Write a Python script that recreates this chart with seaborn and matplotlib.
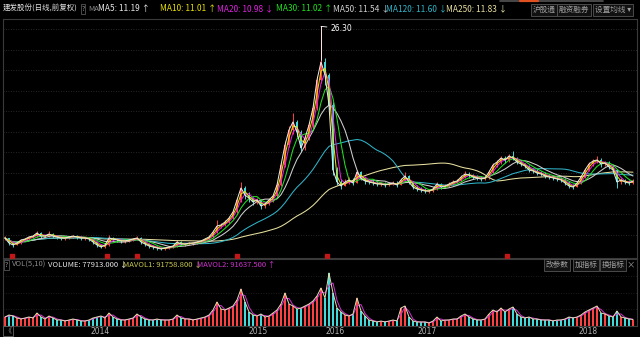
import numpy as np
import pandas as pd
import matplotlib
matplotlib.use("Agg")
import matplotlib.pyplot as plt
import seaborn as sns

# ---------------- data (one value per bar, ~6 trading days per bar) ----------------
close = [5.66, 5.17, 4.98, 5.17, 5.46, 5.56, 5.76, 5.85, 6.15, 5.85,
         5.85, 6.05, 5.85, 5.76, 5.66, 5.66, 5.76, 5.85, 5.76, 5.66,
         5.66, 5.56, 5.27, 4.98, 4.78, 4.98, 5.66, 5.56, 5.46, 5.37,
         5.37, 5.46, 5.56, 5.66, 5.27, 5.07, 4.88, 4.78, 4.68, 4.59,
         4.68, 4.78, 4.88, 5.27, 5.07, 5.07, 5.17, 5.17, 5.27, 5.37,
         5.56, 5.76, 6.24, 6.83, 6.93, 7.22, 7.61, 8.20, 9.37, 10.54,
         9.85, 9.56, 9.17, 9.37, 8.78, 8.98, 9.37, 9.76, 10.83, 12.78,
         14.73, 16.20, 16.98, 16.00, 14.44, 15.41, 16.68, 18.34, 21.07, 22.83,
         21.56, 18.63, 12.29, 11.12, 10.73, 11.12, 11.32, 11.02, 12.10, 11.51,
         11.22, 11.12, 11.02, 10.93, 10.93, 10.83, 10.93, 11.02, 10.83, 11.32,
         11.71, 11.12, 10.63, 10.44, 10.34, 10.24, 10.24, 10.44, 10.93, 10.63,
         10.73, 10.93, 11.12, 11.22, 11.61, 11.90, 11.80, 11.61, 11.51, 11.41,
         11.51, 12.10, 12.78, 13.07, 13.46, 13.27, 13.66, 13.46, 13.07, 12.88,
         12.68, 12.29, 12.20, 12.00, 11.90, 11.71, 11.61, 11.51, 11.41, 11.32,
         11.02, 10.73, 10.63, 11.02, 11.61, 12.29, 12.88, 13.17, 13.27, 12.88,
         12.98, 12.59, 12.29, 11.12, 11.32, 11.12, 11.02, 11.22]

high = [5.85, 5.70, 5.25, 5.30, 5.60, 5.70, 5.90, 6.00, 6.35, 6.20,
        6.00, 6.30, 6.10, 5.95, 5.85, 5.80, 5.90, 6.00, 5.95, 5.85,
        5.80, 5.75, 5.60, 5.35, 5.05, 5.15, 5.95, 5.80, 5.65, 5.55,
        5.50, 5.60, 5.70, 5.90, 5.75, 5.35, 5.15, 4.95, 4.85, 4.75,
        4.80, 4.90, 5.00, 5.50, 5.35, 5.20, 5.30, 5.30, 5.40, 5.50,
        5.70, 5.95, 6.40, 7.40, 7.15, 7.40, 7.85, 8.40, 9.60, 11.10,
        10.70, 10.10, 9.70, 9.60, 9.45, 9.20, 9.55, 9.95, 11.10, 13.10,
        15.10, 16.60, 17.90, 17.20, 16.20, 15.70, 17.00, 18.70, 21.50, 26.30,
        23.20, 21.80, 18.90, 12.60, 11.40, 11.40, 11.60, 11.50, 12.30, 12.20,
        11.60, 11.40, 11.30, 11.20, 11.15, 11.10, 11.15, 11.25, 11.20, 11.55,
        12.10, 11.80, 11.25, 10.80, 10.60, 10.50, 10.45, 10.65, 11.15, 11.05,
        10.95, 11.15, 11.35, 11.45, 11.85, 12.15, 12.10, 11.95, 11.80, 11.70,
        11.70, 12.30, 13.00, 13.30, 13.70, 13.70, 13.90, 14.15, 13.60, 13.20,
        13.00, 12.80, 12.45, 12.35, 12.20, 12.05, 11.90, 11.80, 11.70, 11.60,
        11.50, 11.20, 10.90, 11.25, 11.85, 12.50, 13.10, 13.40, 13.70, 13.45,
        13.20, 13.15, 12.75, 12.40, 11.55, 11.45, 11.30, 11.40]

low = [5.45, 4.95, 4.80, 4.95, 5.10, 5.35, 5.50, 5.65, 5.75, 5.70,
       5.70, 5.75, 5.70, 5.60, 5.50, 5.50, 5.55, 5.65, 5.60, 5.50,
       5.50, 5.40, 5.10, 4.80, 4.65, 4.70, 4.90, 5.40, 5.30, 5.20,
       5.20, 5.25, 5.35, 5.45, 5.10, 4.90, 4.72, 4.60, 4.52, 4.45,
       4.50, 4.60, 4.70, 4.80, 4.95, 4.90, 5.00, 5.02, 5.10, 5.20,
       5.30, 5.50, 5.70, 6.10, 6.60, 6.80, 7.10, 7.50, 8.10, 9.20,
       9.50, 9.20, 8.90, 8.95, 8.50, 8.60, 8.85, 9.20, 9.60, 10.70,
       12.60, 14.50, 15.80, 15.50, 14.00, 14.20, 15.20, 16.40, 18.10, 20.80,
       20.60, 18.10, 11.80, 10.80, 10.40, 10.70, 10.95, 10.80, 11.00, 11.30,
       10.95, 10.90, 10.85, 10.75, 10.70, 10.65, 10.70, 10.80, 10.65, 10.80,
       11.10, 10.95, 10.45, 10.25, 10.15, 10.05, 10.05, 10.15, 10.35, 10.45,
       10.50, 10.60, 10.85, 11.00, 11.15, 11.50, 11.55, 11.40, 11.30, 11.20,
       11.30, 11.40, 12.00, 12.60, 12.90, 13.00, 13.10, 13.25, 12.85, 12.70,
       12.45, 12.10, 12.00, 11.80, 11.70, 11.50, 11.45, 11.35, 11.25, 11.10,
       10.85, 10.55, 10.40, 10.60, 10.95, 11.50, 12.20, 12.70, 13.00, 12.60,
       12.70, 12.40, 12.05, 10.50, 10.95, 10.90, 10.85, 10.95]

# volume, thousand lots
volume = [108, 132, 120, 96, 84, 96, 108, 96, 156, 108,
          84, 120, 96, 72, 72, 60, 72, 84, 72, 60,
          60, 72, 96, 108, 120, 96, 156, 108, 84, 72,
          72, 84, 96, 144, 108, 84, 72, 72, 84, 72,
          72, 72, 84, 132, 96, 84, 84, 72, 84, 96,
          108, 132, 192, 288, 204, 192, 216, 240, 312, 444,
          288, 168, 132, 120, 144, 108, 120, 156, 192, 264,
          396, 264, 240, 204, 216, 240, 264, 300, 360, 456,
          336, 636, 396, 216, 168, 132, 120, 144, 336, 180,
          120, 72, 60, 48, 60, 48, 60, 72, 60, 216,
          240, 108, 60, 48, 48, 48, 36, 60, 108, 60,
          72, 72, 84, 84, 120, 144, 108, 84, 72, 72,
          84, 144, 192, 168, 216, 168, 204, 228, 144, 108,
          96, 108, 84, 84, 72, 72, 72, 60, 72, 72,
          84, 108, 96, 108, 132, 168, 192, 216, 240, 156,
          144, 120, 108, 180, 108, 96, 84, 78]

year_labels = ["2014", "2015", "2016", "2017", "2018"]
year_pos = [23.75, 63.25, 82.5, 105.5, 145.75]
event_pos = [1.75, 25.5, 33, 58, 80.5, 125.5]
peak_label = "26.30"

ma_names = ["MA5", "MA10", "MA20", "MA30", "MA50", "MA120", "MA250"]
ma_periods = [5, 10, 20, 30, 50, 120, 250]
ma_values = ["11.19", "11.01", "10.98", "11.02", "11.54", "11.60", "11.83"]
ma_arrows = ["↑", "↑", "↓", "↑", "↓", "↓", "↓"]
ma_colors = ["#e6e6e6", "#e8e000", "#e020e0", "#20e020", "#cfcfcf", "#2fb4c8", "#e8e0a0"]
ma_text_x = [98, 160, 217, 276, 333, 386, 446]

vol_names = ["VOLUME", "MAVOL1", "MAVOL2"]
vol_values = ["77913.000", "91758.800", "91637.500"]
vol_arrows = ["↓", "↓", "↑"]
vol_colors = ["#e6e6e6", "#c8c850", "#d030d0"]
vol_text_x = [48, 123, 197]
mavol_periods = [5, 10]

DAYS_PER_BAR = 6
UP, DOWN = "#ff4040", "#40dada"

# ---------------- frame ----------------
df = pd.DataFrame({"i": np.arange(len(close)), "close": close, "high": high,
                   "low": low, "volume": volume})
df["open"] = df["close"].shift(1).fillna(df["close"])
df["up"] = df["close"] >= df["open"]
for name, p in zip(ma_names, ma_periods):
    df[name] = df["close"].rolling(max(1, round(p / DAYS_PER_BAR)), min_periods=1).mean()
for k, p in zip(["MAVOL1", "MAVOL2"], mavol_periods):
    df[k] = df["volume"].rolling(max(1, round(p / DAYS_PER_BAR)), min_periods=1).mean()

sns.set_style("dark", rc={"axes.facecolor": "black", "figure.facecolor": "black"})
plt.rcParams["font.family"] = ["Noto Sans CJK SC", "DejaVu Sans"]

W, H = 640, 337
fig = plt.figure(figsize=(6.4, 3.37), dpi=100)
fig.patch.set_facecolor("black")


def fx(x):
    return x / W


def fy(y):
    return 1 - y / H


cols = np.where(df["up"], UP, DOWN)

# price pane
ax = fig.add_axes([fx(3), fy(258), fx(634), (258 - 19) / H])
ax.set_facecolor("black")
ax.set_xlim(-0.5, 158)
ax.set_ylim(3.71, 27.02)
for p in range(6, 27, 2):
    ax.axhline(p, color="#333333", lw=0.6, ls=(0, (1, 2)), zorder=0)
hi = np.maximum.reduce([df["high"], df["open"], df["close"]])
lo = np.minimum.reduce([df["low"], df["open"], df["close"]])
ax.vlines(df["i"], lo, hi, colors=cols, lw=0.7, zorder=2)
body_lo = np.minimum(df["open"], df["close"])
body_h = np.maximum(np.abs(df["close"] - df["open"]), 0.04)
ax.bar(df["i"], body_h, bottom=body_lo, width=0.65, color=cols, linewidth=0, zorder=2)
for name, c in zip(ma_names[::-1], ma_colors[::-1]):
    sns.lineplot(data=df, x="i", y=name, ax=ax, color=c, lw=0.75, legend=False, zorder=3)
ax.annotate(peak_label, xy=(79, 26.3), xytext=(81.3, 26.1), color="white",
            fontsize=5.5, va="center", family="DejaVu Sans",
            arrowprops=dict(arrowstyle="-", color="white", lw=0.6, shrinkA=0, shrinkB=0))
ax.plot([79, 79], [23.0, 26.3], color="white", lw=0.6, zorder=4)
ax.scatter(event_pos, [3.95] * len(event_pos), marker="s", s=10, color="#c01818", zorder=5,
           clip_on=False)
ax.set_xticks([]); ax.set_yticks([])
ax.set_xlabel(""); ax.set_ylabel("")
for s in ax.spines.values():
    s.set_color("#3a3a3a"); s.set_linewidth(0.8)

# volume pane
axv = fig.add_axes([fx(3), fy(326), fx(634), (326 - 259) / H])
axv.set_facecolor("black")
axv.set_xlim(-0.5, 158)
axv.set_ylim(0, (326 - 259) * 12)
for v in [200, 400, 600]:
    axv.axhline(v, color="#262626", lw=0.6, ls=(0, (1, 2)), zorder=0)
axv.bar(df["i"], df["volume"], width=0.65, color=cols, linewidth=0, zorder=2)
sns.lineplot(data=df, x="i", y="MAVOL2", ax=axv, color="#d030d0", lw=0.7, legend=False, zorder=3)
sns.lineplot(data=df, x="i", y="MAVOL1", ax=axv, color="#e0e0b0", lw=0.7, legend=False, zorder=3)
axv.set_xticks([]); axv.set_yticks([])
axv.set_xlabel(""); axv.set_ylabel("")
for s in axv.spines.values():
    s.set_color("#3a3a3a"); s.set_linewidth(0.8)

# x-axis year labels
for lab, pos in zip(year_labels, year_pos):
    xpx = 3 + (pos + 0.5) / 158.5 * 634
    fig.text(fx(xpx), fy(331), lab, color="#b4b4b4", fontsize=5.5, ha="center",
             va="center", family="DejaVu Sans")
fig.text(fx(8), fy(331), "《", color="#9a9a9a", fontsize=5, ha="center", va="center",
         bbox=dict(boxstyle="square,pad=0.15", fc="black", ec="#666666", lw=0.6))

# header
fig.text(fx(3), fy(9), "建发股份(日线,前复权)", color="#e0e0e0", fontsize=5.4, va="center")
fig.text(fx(81.5), fy(9), "?", color="#9a9a9a", fontsize=4.8, va="center",
         bbox=dict(boxstyle="square,pad=0.1", fc="black", ec="#666666", lw=0.5))
fig.text(fx(88), fy(9), "MA", color="#8a8a8a", fontsize=5.5, va="center")
for n, v, a, c, x in zip(ma_names, ma_values, ma_arrows, ma_colors, ma_text_x):
    fig.text(fx(x), fy(9), f"{n}: {v} {a}", color=c, fontsize=6, va="center")
for lab, x in zip(["沪股通", "融资融券", "设置均线 ▾"], [544, 574, 613]):
    fig.text(fx(x), fy(10), lab, color="#a0a0a0", fontsize=5.5, ha="center", va="center",
             bbox=dict(boxstyle="square,pad=0.25", fc="#111111", ec="#555555", lw=0.6))
fig.add_artist(plt.Line2D([fx(500), fx(603)], [fy(0.8), fy(0.8)], color="#555555", lw=1.2))
fig.add_artist(plt.Line2D([fx(520), fx(538)], [fy(0.8), fy(0.8)], color="#e05020", lw=1.6))

# volume header
fig.text(fx(5), fy(265), "?", color="#9a9a9a", fontsize=5, va="center",
         bbox=dict(boxstyle="square,pad=0.1", fc="black", ec="#666666", lw=0.5))
fig.text(fx(12), fy(265), "VOL(5,10)", color="#8a8a8a", fontsize=5.5, va="center")
for n, v, a, c, x in zip(vol_names, vol_values, vol_arrows, vol_colors, vol_text_x):
    fig.text(fx(x), fy(265), f"{n}: {v} {a}", color=c, fontsize=5.5, va="center")
for lab, x in zip(["改参数", "加指标", "换指标"], [557, 586, 613]):
    fig.text(fx(x), fy(265), lab, color="#a0a0a0", fontsize=5.5, ha="center", va="center",
             bbox=dict(boxstyle="square,pad=0.2", fc="#111111", ec="#555555", lw=0.6))
fig.text(fx(631), fy(265), "×", color="#a0a0a0", fontsize=6, ha="center", va="center")

fig.savefig("out.png", dpi=100, facecolor="black")
